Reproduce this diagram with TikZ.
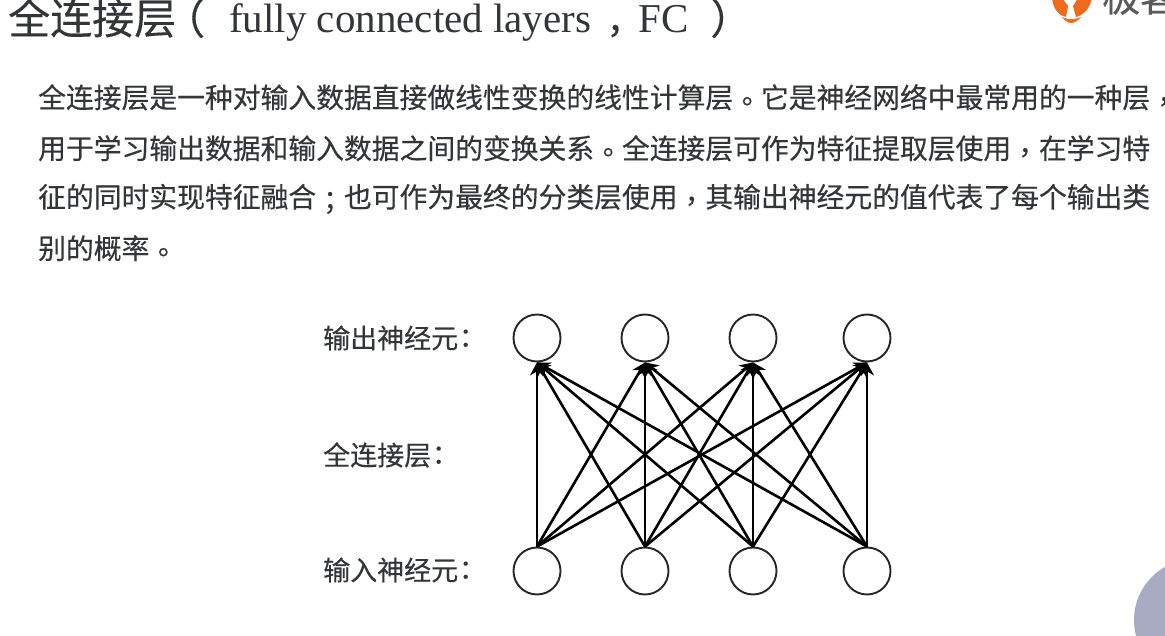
\documentclass[tikz,border=0pt]{standalone}
\usepackage{fontspec}
\setmainfont{Liberation Serif}
\newfontfamily\cjk[RawFeature={embolden=0.35}]{Noto Sans CJK SC}
\newfontfamily\cjkp[RawFeature={embolden=0.35}]{Noto Sans CJK TC}
\newcommand{\pct}[1]{\raisebox{-0.14em}{\cjkp #1}}
\definecolor{ink}{HTML}{333638}
\definecolor{blob}{HTML}{A9ABC3}
\definecolor{logoor}{HTML}{EE6A1C}
\definecolor{logogr}{HTML}{5A5A5A}
\usetikzlibrary{arrows.meta}
\tikzset{
  neuron/.style={circle,draw=black!85,line width=1.9pt,minimum size=47pt,inner sep=0pt},
  link/.style={-{Stealth[length=13pt,width=14pt]},line width=2.6pt,black},
  para/.style={anchor=west,inner sep=0pt,text=ink,font=\cjk\fontsize{27.8}{30}\selectfont},
  lab/.style={anchor=west,inner sep=0pt,text=ink,font=\cjk\fontsize{27}{30}\selectfont},
  tt/.style={anchor=base west,inner sep=0pt,text=ink},
}
\begin{document}
\begin{tikzpicture}[x=1pt,y=-1pt]
\useasboundingbox (0,0) rectangle (1165,636);
\clip (0,0) rectangle (1165,636);
\fill[white] (0,0) rectangle (1165,636);
\fill[blob] (1195,620) circle (61);
% logo
\fill[logoor] (1052,-2) .. controls (1053,10) and (1060,16) .. (1066,17) -- (1068,6) -- (1062,-2) -- cycle;
\fill[logoor] (1092,-2) .. controls (1090,8) and (1084,15) .. (1076,17) -- (1073,6) -- (1078,-2) -- cycle;
\fill[logoor] (1062,17) .. controls (1068,20) and (1074,20) .. (1081,17) .. controls (1078,21) and (1074,23) .. (1071,23) .. controls (1068,23) and (1064,20) .. (1062,17) -- cycle;
\node[anchor=west,inner sep=0pt,text=logogr,font=\cjk\fontsize{38}{40}\selectfont] (logo) at (1102,-3) {极客};
% title
\node[tt,font=\cjk\fontsize{42}{46}\selectfont] (title) at (8,34) {全连接层};
\node[tt,font=\cjk\fontsize{42}{46}\selectfont] (ob) at (163,34) {（};
\node[tt,font=\fontsize{41}{46}\selectfont] (en) at (229,33) {fully connected layers};
\node[tt,font=\cjkp\fontsize{36}{46}\selectfont] (cm) at (597,44) {，};
\node[tt,font=\fontsize{41}{46}\selectfont] (fc) at (638,33) {FC};
\node[tt,font=\cjk\fontsize{42}{46}\selectfont] (cb) at (710,34) {）};
% paragraph
\node[para] (p1) at (38,98) {全连接层是一种对输入数据直接做线性变换的线性计算层\pct{。}它是神经网络中最常用的一种层\pct{，}};
\node[para] (p2) at (38,149) {用于学习输出数据和输入数据之间的变换关系\pct{。}全连接层可作为特征提取层使用\pct{，}在学习特};
\node[para] (p3) at (38,199) {征的同时实现特征融合\pct{；}也可作为最终的分类层使用\pct{，}其输出神经元的值代表了每个输出类};
\node[para] (p4) at (38,249) {别的概率\pct{。}};
% labels
\node[lab] (l1) at (323,338) {输出神经元\kern-6pt{\cjkp ：}};
\node[lab] (l2) at (323,455) {全连接层\kern-6pt{\cjkp ：}};
\node[lab] (l3) at (323,570) {输入神经元\kern-6pt{\cjkp ：}};
% neurons
\foreach \n/\x in {1/537,2/645,3/753,4/867}{
  \node[neuron] (t\n) at (\x,338) {};
  \node[neuron] (b\n) at (\x,571) {};
}
\foreach \i in {1,2,3,4}{
  \foreach \j in {1,2,3,4}{
    \draw[link] (b\i.north) -- (t\j.south);
  }
}
\end{tikzpicture}
\end{document}
